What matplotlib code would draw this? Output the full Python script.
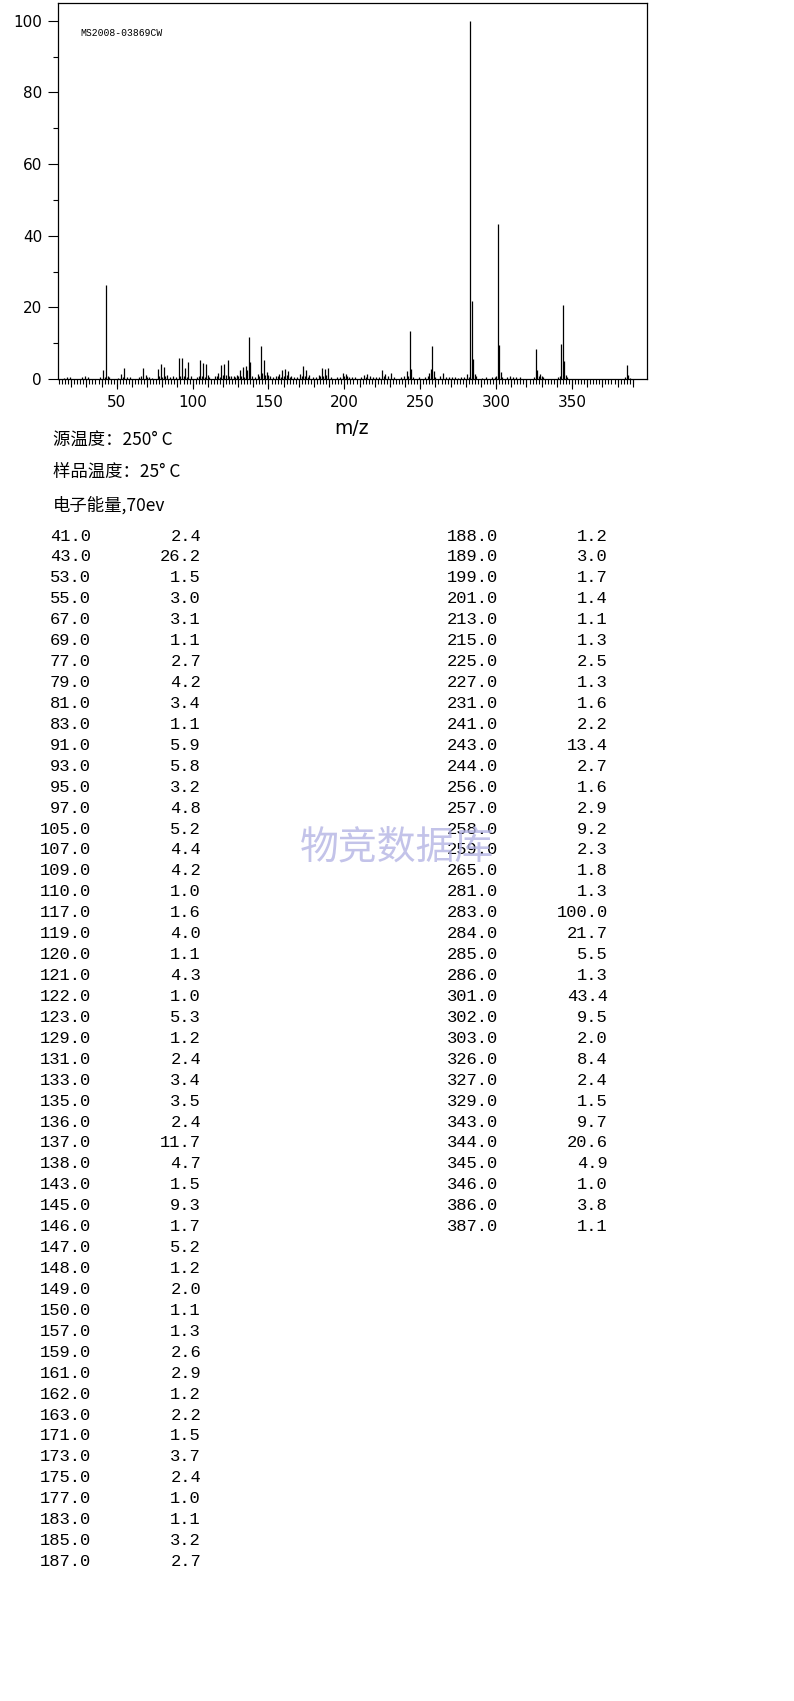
import matplotlib
matplotlib.use('Agg')
import matplotlib.pyplot as plt
from matplotlib.ticker import FixedLocator

# peak table (m/z, relative intensity)
mz_left = [41, 43, 53, 55, 67, 69, 77, 79, 81, 83, 91, 93, 95, 97, 105, 107, 109, 110,
           117, 119, 120, 121, 122, 123, 129, 131, 133, 135, 136, 137, 138, 143, 145, 146,
           147, 148, 149, 150, 157, 159, 161, 162, 163, 171, 173, 175, 177, 183, 185, 187]
int_left = [2.4, 26.2, 1.5, 3.0, 3.1, 1.1, 2.7, 4.2, 3.4, 1.1, 5.9, 5.8, 3.2, 4.8, 5.2, 4.4,
            4.2, 1.0, 1.6, 4.0, 1.1, 4.3, 1.0, 5.3, 1.2, 2.4, 3.4, 3.5, 2.4, 11.7, 4.7, 1.5,
            9.3, 1.7, 5.2, 1.2, 2.0, 1.1, 1.3, 2.6, 2.9, 1.2, 2.2, 1.5, 3.7, 2.4, 1.0, 1.1,
            3.2, 2.7]
mz_right = [188, 189, 199, 201, 213, 215, 225, 227, 231, 241, 243, 244, 256, 257, 258, 259,
            265, 281, 283, 284, 285, 286, 301, 302, 303, 326, 327, 329, 343, 344, 345, 346,
            386, 387]
int_right = [1.2, 3.0, 1.7, 1.4, 1.1, 1.3, 2.5, 1.3, 1.6, 2.2, 13.4, 2.7, 1.6, 2.9, 9.2, 2.3,
             1.8, 1.3, 100.0, 21.7, 5.5, 1.3, 43.4, 9.5, 2.0, 8.4, 2.4, 1.5, 9.7, 20.6, 4.9,
             1.0, 3.8, 1.1]

# small background peaks drawn in the spectrum but not listed in the table
noise_mz = [15, 17, 19, 27, 29, 31, 39, 42, 44, 45, 51, 54, 57, 59, 65, 66, 70, 71, 73,
            78, 80, 82, 85, 87, 89, 92, 94, 96, 99, 103, 104, 106, 108, 111, 115, 116, 118,
            124, 125, 127, 128, 130, 132, 134, 139, 141, 144, 151, 153, 155, 156, 158, 160,
            164, 165, 167, 169, 172, 174, 176, 179, 181, 184, 186, 191, 195, 197, 200, 202,
            203, 205, 207, 211, 214, 217, 219, 221, 223, 226, 229, 233, 237, 239, 242, 245,
            249, 253, 255, 260, 263, 267, 269, 271, 273, 275, 277, 279, 282, 287, 291, 293,
            297, 299, 300, 304, 307, 309, 311, 313, 316, 325, 328, 330, 331, 341, 342, 347,
            385, 388]
noise_int = [0.4, 0.5, 0.6, 0.5, 0.7, 0.5, 0.6, 0.5, 0.7, 0.5, 0.4, 0.5, 0.6, 0.5, 0.6,
             0.9, 0.5, 0.6, 0.4, 0.7, 0.6, 0.8, 0.5, 0.7, 0.5, 0.9, 0.8, 0.6, 0.7, 0.5, 0.8,
             0.7, 0.6, 0.5, 0.8, 0.9, 0.6, 0.8, 0.7, 0.9, 0.5, 0.8, 0.7, 0.6, 0.8, 0.6, 0.7,
             0.8, 0.6, 0.7, 0.8, 0.6, 0.9, 0.6, 0.7, 0.5, 0.6, 0.8, 0.7, 0.6, 0.5, 0.6, 0.7,
             0.8, 0.6, 0.5, 0.6, 0.7, 0.8, 0.6, 0.5, 0.6, 0.5, 0.6, 0.8, 0.5, 0.6, 0.5, 0.7,
             0.8, 0.5, 0.6, 0.7, 0.9, 0.6, 0.5, 0.6, 0.7, 0.5, 0.8, 0.6, 0.5, 0.6, 0.5, 0.4,
             0.5, 0.6, 0.5, 0.7, 0.4, 0.5, 0.5, 0.6, 0.9, 0.6, 0.5, 0.8, 0.6, 0.5, 0.5, 0.6,
             0.7, 0.8, 0.5, 0.6, 0.7, 0.6, 0.5, 0.4]

conditions = ['源温度：250° C', '样品温度：25° C', '电子能量,70ev']
spec_id = 'MS2008-03869CW'
watermark = '物竞数据库'

W, H = 794, 1701
fig = plt.figure(figsize=(W / 100, H / 100), dpi=100)
cjk = ['Noto Sans CJK SC', 'DejaVu Sans']

# spectrum
ax = fig.add_axes([58 / W, 1 - 379 / H, (647 - 58) / W, (379 - 3.3) / H])
ax.vlines(noise_mz, 0, noise_int, color='black', lw=0.9)
ax.vlines(mz_left + mz_right, 0, int_left + int_right, color='black', lw=0.9)
ax.set_xlim(11.3, 399.4)
ax.set_ylim(0, 104.9)
for s in ax.spines.values():
    s.set_linewidth(0.9)

ax.set_xticks(range(50, 351, 50))
ax.xaxis.set_minor_locator(FixedLocator(list(range(12, 391, 2))))
ax.set_yticks(range(0, 101, 20))
ax.yaxis.set_minor_locator(FixedLocator(list(range(10, 100, 20))))
ax.tick_params(which='major', direction='out', length=7.5, width=0.8, labelsize=11, pad=4)
ax.tick_params(which='minor', direction='out', length=3.6, width=0.8)

# medium ticks every 10 on the x axis
sec = ax.secondary_xaxis('bottom')
sec.set_xticks(range(20, 391, 10))
sec.tick_params(direction='out', length=5.5, width=0.8, labelbottom=False)
sec.spines['bottom'].set_visible(False)

ax.text((80 - 58) / 589, (379 - 33) / 375.7, spec_id, transform=ax.transAxes,
        family='Liberation Mono', fontsize=7, va='center', ha='left')
fig.text(352 / W, 1 - 428 / H, 'm/z', fontsize=13.5, ha='center', va='center')

# experimental conditions
for txt, yp in zip(conditions, [441, 472, 505]):
    fig.text(53 / W, 1 - yp / H, txt, family=cjk, fontsize=12.5, ha='left', va='center')

# peak table
y0, dy = 536, 20.93
for i, (m, v) in enumerate(zip(mz_left, int_left)):
    yy = 1 - (y0 + i * dy) / H
    fig.text(91 / W, yy, '%.1f' % m, family='Liberation Mono', fontsize=12.3, ha='right', va='center')
    fig.text(201 / W, yy, '%.1f' % v, family='Liberation Mono', fontsize=12.3, ha='right', va='center')
for i, (m, v) in enumerate(zip(mz_right, int_right)):
    yy = 1 - (y0 + i * dy) / H
    fig.text(498 / W, yy, '%.1f' % m, family='Liberation Mono', fontsize=12.3, ha='right', va='center')
    fig.text(608 / W, yy, '%.1f' % v, family='Liberation Mono', fontsize=12.3, ha='right', va='center')

fig.text(397 / W, 1 - 848 / H, watermark, family=cjk, fontsize=28, color='#b4b4e4',
         alpha=0.8, ha='center', va='center', zorder=10)

fig.savefig('out.png', dpi=100)
